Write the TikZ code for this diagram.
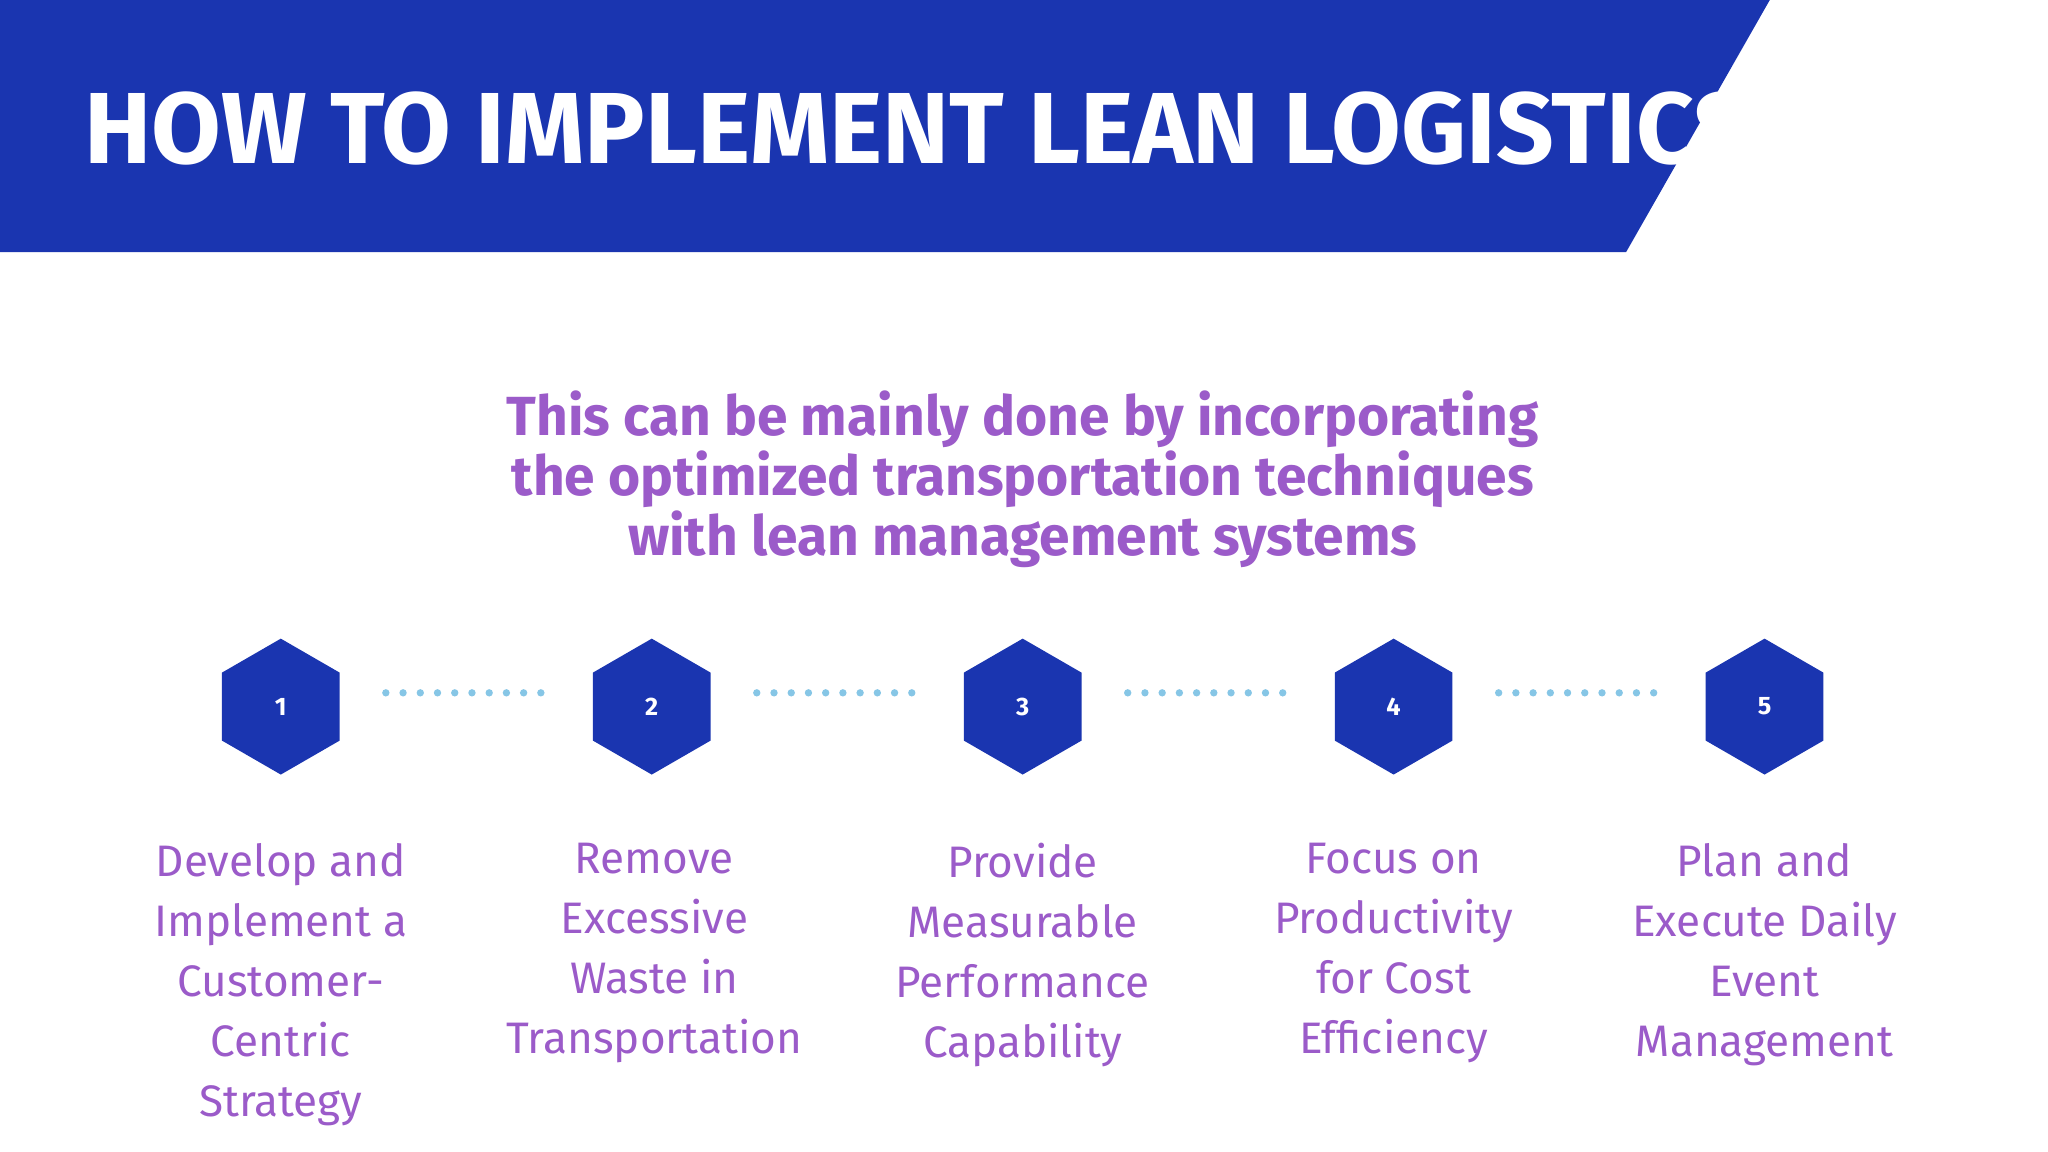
\documentclass[tikz,border=0pt]{standalone}
\usepackage{fontspec}
\setmainfont{Fira Sans}
\usetikzlibrary{shapes.geometric}
\definecolor{navy}{HTML}{1A35B0}
\definecolor{purp}{HTML}{9B5BC9}
\definecolor{dotc}{HTML}{86C6E6}
\begin{document}
\begin{tikzpicture}[x=0.01cm,y=-0.01cm,
  hex/.style={regular polygon,regular polygon sides=6,shape border rotate=30,fill=navy,minimum size=104\pgflinewidth*0+1.04cm,inner sep=0,text=white,font=\fontsize{5.5}{6}\selectfont\bfseries},
  lbl/.style={text=purp,align=center,anchor=north,font=\fontsize{9.6}{13.1}\selectfont\mdseries},
  dots/.style={dotc,line width=1.6pt,line cap=round,dash pattern=on 0pt off 3.75pt}]
\useasboundingbox (0,0) rectangle (1568,882);
\fill[white] (0,0) rectangle (1568,882);
\fill[navy] (0,0) -- (1355,0) -- (1245,193) -- (0,193) -- cycle;
\node[anchor=west,text=white,font=\fontsize{22}{26}\selectfont\bfseries] (title) at (52,98) {HOW TO IMPLEMENT LEAN LOGISTICS?};
\node[text=purp,align=center,font=\fontsize{12}{13}\selectfont\bfseries] (sub) at (783,367) {This can be mainly done by incorporating\\the optimized transportation techniques\\with lean management systems};
\foreach \i/\x in {1/215,2/499,3/783,4/1067,5/1351}{
  \node[hex] (h\i) at (\x,541) {\i};
}
\foreach \a/\b in {1/2,2/3,3/4,4/5}{
  \path (h\a.east) -- (h\b.west) coordinate[pos=0.18] (s\a) coordinate[pos=0.82] (e\a);
  \draw[dots] ([yshift=3]s\a) -- ([yshift=3]e\a);
}
\node[lbl] (l1) at (215,633) {Develop and\\Implement a\\Customer-\\Centric\\Strategy};
\node[lbl] (l2) at (501,633) {Remove\\Excessive\\Waste in\\Transportation};
\node[lbl] (l3) at (783,633) {Provide\\Measurable\\Performance\\Capability};
\node[lbl] (l4) at (1067,633) {Focus on\\Productivity\\for Cost\\Efficiency};
\node[lbl] (l5) at (1351,633) {Plan and\\Execute Daily\\Event\\Management};
\end{tikzpicture}
\end{document}
